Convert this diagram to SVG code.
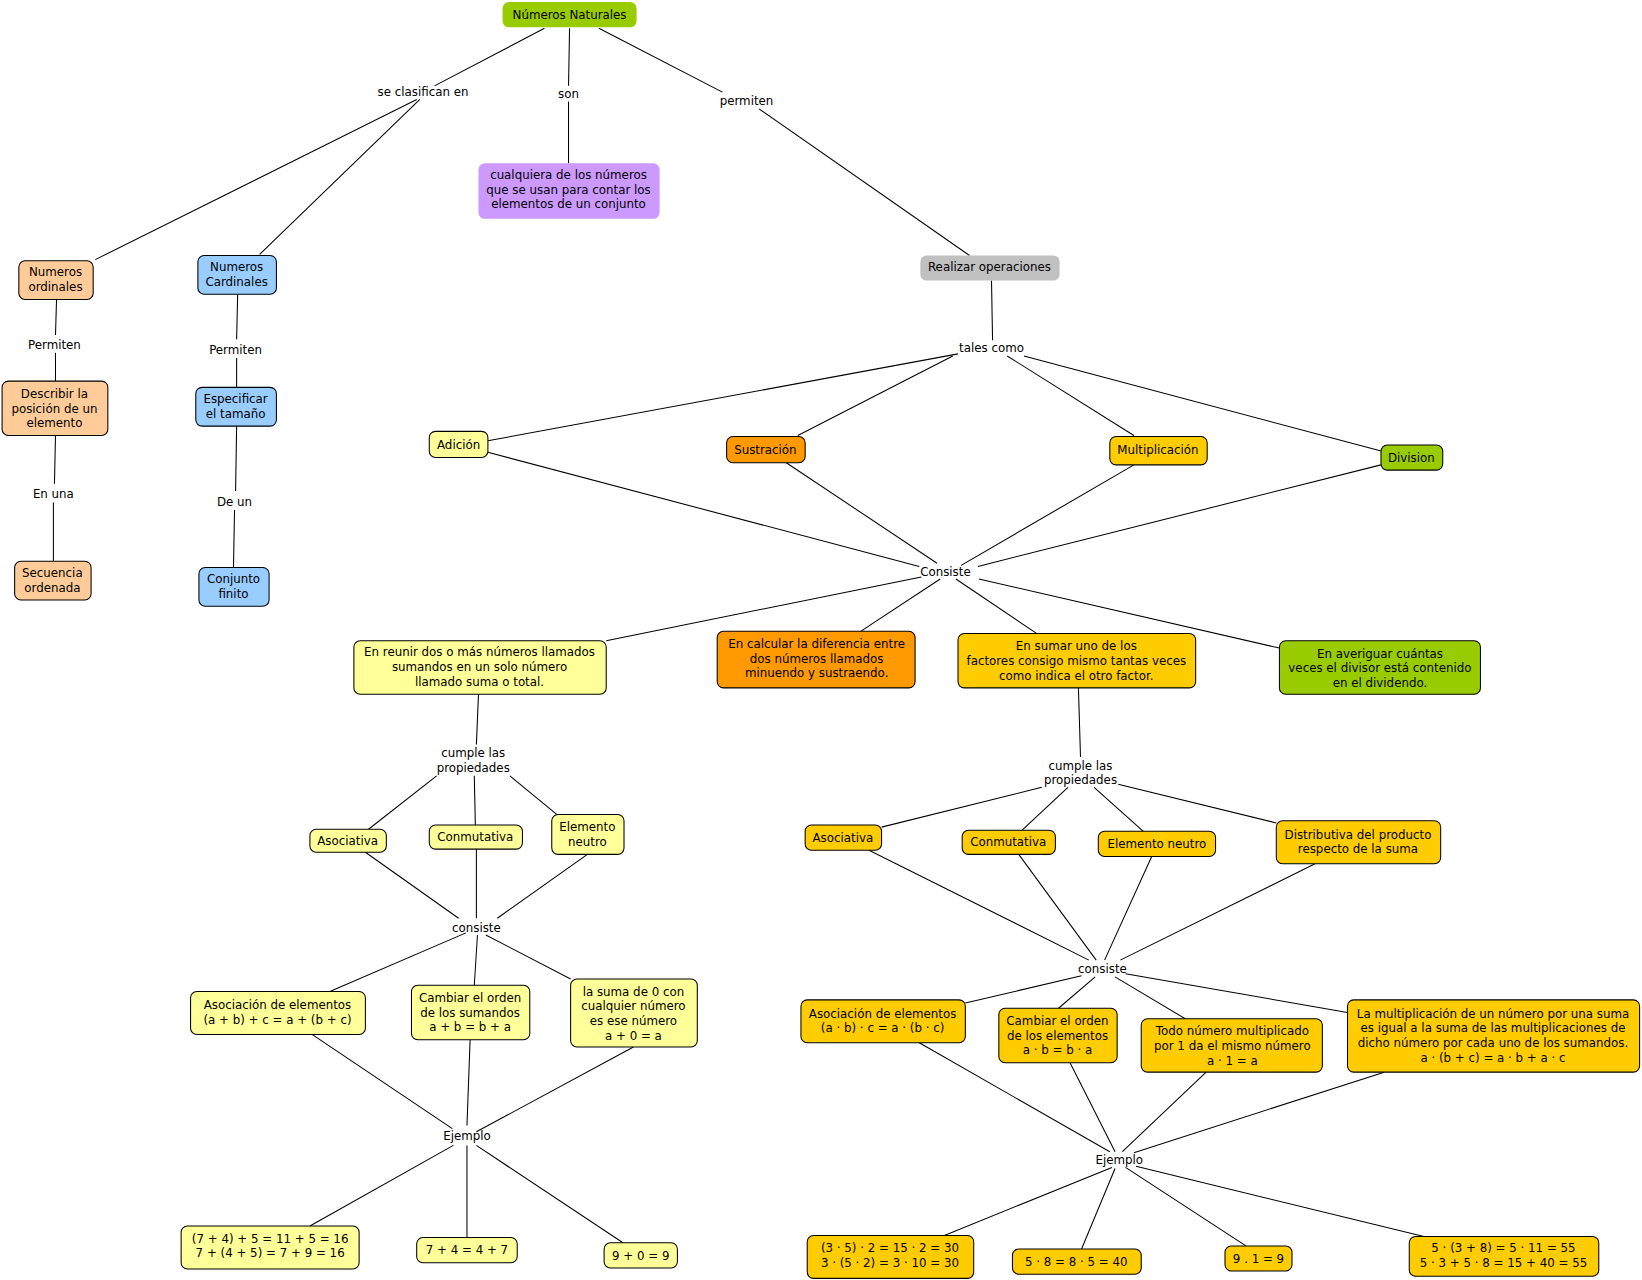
<svg xmlns="http://www.w3.org/2000/svg" width="1642" height="1280" viewBox="0 0 1642 1280">
<style>
text{font-family:"DejaVu Sans","Verdana",sans-serif;font-size:11.3px;fill:#000;text-anchor:middle}
.n{stroke:#000;stroke-width:1}
.nb{stroke:none}
#edges line{stroke:#000;stroke-width:1}
</style>
<rect width="1642" height="1280" fill="#fff"/>
<g transform="scale(1.047)">
<g id="edges">
<line x1="520" y1="27" x2="415" y2="82"/><line x1="398" y1="95" x2="91" y2="248"/><line x1="401" y1="95" x2="248" y2="243"/>
<line x1="544" y1="27" x2="543" y2="82"/><line x1="543" y1="97" x2="543" y2="156"/>
<line x1="572" y1="27" x2="690" y2="88"/><line x1="725" y1="104" x2="926" y2="244"/>
<line x1="54" y1="286" x2="53" y2="320"/><line x1="53" y1="337" x2="53" y2="364"/>
<line x1="53" y1="416" x2="52" y2="462"/><line x1="51" y1="480" x2="51" y2="536"/>
<line x1="227" y1="281" x2="226" y2="324"/><line x1="226" y1="342" x2="226" y2="370"/>
<line x1="226" y1="407" x2="225" y2="469"/><line x1="224" y1="487" x2="223" y2="542"/>
<line x1="947" y1="268" x2="948" y2="325"/>
<line x1="915" y1="338" x2="466" y2="421"/><line x1="910" y1="340" x2="762" y2="416"/><line x1="962" y1="340" x2="1083" y2="416"/><line x1="978" y1="340" x2="1320" y2="431"/>
<line x1="466" y1="432" x2="878" y2="541"/><line x1="751" y1="442" x2="895" y2="538"/><line x1="1083" y1="444" x2="918" y2="540"/><line x1="1319" y1="444" x2="934" y2="541"/>
<line x1="880" y1="551" x2="579" y2="612"/><line x1="898" y1="553" x2="822" y2="603"/><line x1="913" y1="553" x2="990" y2="605"/><line x1="935" y1="553" x2="1222" y2="619"/>
<line x1="457" y1="663" x2="455" y2="711"/>
<line x1="417" y1="741" x2="352" y2="792"/><line x1="453" y1="741" x2="454" y2="788"/><line x1="487" y1="741" x2="532" y2="778"/>
<line x1="349" y1="814" x2="438" y2="877"/><line x1="455" y1="811" x2="455" y2="877"/><line x1="561" y1="816" x2="475" y2="877"/>
<line x1="445" y1="891" x2="315" y2="947"/><line x1="456" y1="893" x2="453" y2="941"/><line x1="464" y1="893" x2="545" y2="935"/>
<line x1="298" y1="988" x2="432" y2="1078"/><line x1="449" y1="993" x2="446" y2="1075"/><line x1="605" y1="1000" x2="455" y2="1081"/>
<line x1="433" y1="1094" x2="296" y2="1171"/><line x1="446" y1="1094" x2="446" y2="1182"/><line x1="455" y1="1094" x2="595" y2="1187"/>
<line x1="1030" y1="657" x2="1032" y2="723"/>
<line x1="995" y1="752" x2="842" y2="790"/><line x1="1020" y1="752" x2="976" y2="793"/><line x1="1045" y1="752" x2="1092" y2="794"/><line x1="1068" y1="749" x2="1219" y2="786"/>
<line x1="830" y1="812" x2="1040" y2="917"/><line x1="973" y1="816" x2="1047" y2="917"/><line x1="1100" y1="818" x2="1055" y2="917"/><line x1="1256" y1="825" x2="1070" y2="917"/>
<line x1="1033" y1="932" x2="922" y2="958"/><line x1="1046" y1="933" x2="1011" y2="963"/><line x1="1065" y1="933" x2="1132" y2="973"/><line x1="1075" y1="930" x2="1287" y2="967"/>
<line x1="878" y1="996" x2="1060" y2="1100"/><line x1="1022" y1="1015" x2="1065" y2="1100"/><line x1="1152" y1="1024" x2="1072" y2="1100"/><line x1="1322" y1="1024" x2="1083" y2="1101"/>
<line x1="1062" y1="1115" x2="902" y2="1180"/><line x1="1065" y1="1116" x2="1033" y2="1193"/><line x1="1075" y1="1115" x2="1190" y2="1190"/><line x1="1085" y1="1114" x2="1360" y2="1181"/>
</g>
<g id="labels">
<text x="404" y="92">se  clasifican en</text><text x="543" y="94">son</text><text x="713" y="100">permiten</text>
<text x="52" y="333">Permiten</text><text x="51" y="476">En una</text><text x="225" y="338">Permiten</text><text x="224" y="483">De un</text>
<text x="947" y="336">tales como</text><text x="903" y="550">Consiste</text>
<text x="452" y="723">cumple las</text><text x="452" y="737">propiedades</text><text x="455" y="890">consiste</text><text x="446" y="1089">Ejemplo</text>
<text x="1032" y="735">cumple las</text><text x="1032" y="749">propiedades</text><text x="1053" y="929">consiste</text><text x="1069" y="1112">Ejemplo</text>
</g>
<g id="n1"><rect class="nb" x="480" y="2" width="128" height="24" rx="6" fill="#99cc00"/><text x="544" y="18">Números Naturales</text></g>
<g id="n2"><rect class="nb" x="457" y="156" width="173" height="53" rx="6" fill="#cc99ff"/><text x="543" y="171">cualquiera de los números</text><text x="543" y="185">que se usan para contar los</text><text x="543" y="199">elementos de un conjunto</text></g>
<g id="n3"><rect class="n" x="18" y="249" width="71" height="37" rx="6" fill="#ffcc99"/><text x="53" y="264">Numeros</text><text x="53" y="278">ordinales</text></g>
<g id="n4"><rect class="n" x="189" y="244" width="75" height="37" rx="6" fill="#99ccff"/><text x="226" y="259">Numeros</text><text x="226" y="273">Cardinales</text></g>
<g id="n5"><rect class="nb" x="879" y="244" width="133" height="24" rx="6" fill="#c0c0c0"/><text x="945" y="259">Realizar operaciones</text></g>
<g id="n6"><rect class="n" x="2" y="364" width="101" height="52" rx="6" fill="#ffcc99"/><text x="52" y="380">Describir la</text><text x="52" y="394">posición de un</text><text x="52" y="408">elemento</text></g>
<g id="n7"><rect class="n" x="14" y="536" width="73" height="37" rx="6" fill="#ffcc99"/><text x="50" y="551">Secuencia</text><text x="50" y="565">ordenada</text></g>
<g id="n8"><rect class="n" x="187" y="370" width="77" height="37" rx="6" fill="#99ccff"/><text x="225" y="385">Especificar</text><text x="225" y="399">el tamaño</text></g>
<g id="n9"><rect class="n" x="190" y="542" width="67" height="37" rx="6" fill="#99ccff"/><text x="223" y="557">Conjunto</text><text x="223" y="571">finito</text></g>
<g id="n10"><rect class="n" x="410" y="412" width="56" height="25" rx="6" fill="#ffff99"/><text x="438" y="429">Adición</text></g>
<g id="n11"><rect class="n" x="694" y="417" width="75" height="25" rx="6" fill="#ff9900"/><text x="731" y="434">Sustración</text></g>
<g id="n12"><rect class="n" x="1060" y="417" width="93" height="27" rx="6" fill="#ffcc00"/><text x="1106" y="434">Multiplicación</text></g>
<g id="n13"><rect class="n" x="1319" y="425" width="59" height="24" rx="6" fill="#99cc00"/><text x="1348" y="441">Division</text></g>
<g id="n14"><rect class="n" x="338" y="612" width="241" height="51" rx="6" fill="#ffff99"/><text x="458" y="627">En reunir dos o más números llamados</text><text x="458" y="641">sumandos en un solo número</text><text x="458" y="655">llamado suma o total.</text></g>
<g id="n15"><rect class="n" x="685" y="603" width="189" height="54" rx="6" fill="#ff9900"/><text x="780" y="619">En calcular la diferencia entre</text><text x="780" y="633">dos números llamados</text><text x="780" y="647">minuendo y sustraendo.</text></g>
<g id="n16"><rect class="n" x="915" y="605" width="227" height="52" rx="6" fill="#ffcc00"/><text x="1028" y="621">En sumar uno de los</text><text x="1028" y="635">factores consigo mismo tantas veces</text><text x="1028" y="649">como indica el otro factor.</text></g>
<g id="n17"><rect class="n" x="1222" y="612" width="192" height="51" rx="6" fill="#99cc00"/><text x="1318" y="628">En averiguar cuántas</text><text x="1318" y="642">veces el divisor está contenido</text><text x="1318" y="656">en el dividendo.</text></g>
<g id="n18"><rect class="n" x="296" y="792" width="73" height="22" rx="6" fill="#ffff99"/><text x="332" y="807">Asociativa</text></g>
<g id="n19"><rect class="n" x="410" y="788" width="89" height="23" rx="6" fill="#ffff99"/><text x="454" y="803">Conmutativa</text></g>
<g id="n20"><rect class="n" x="527" y="778" width="69" height="38" rx="6" fill="#ffff99"/><text x="561" y="794">Elemento</text><text x="561" y="808">neutro</text></g>
<g id="n21"><rect class="n" x="182" y="947" width="167" height="41" rx="6" fill="#ffff99"/><text x="265" y="964">Asociación de elementos</text><text x="265" y="978">(a + b) + c = a + (b + c)</text></g>
<g id="n22"><rect class="n" x="393" y="941" width="113" height="52" rx="6" fill="#ffff99"/><text x="449" y="957">Cambiar el orden</text><text x="449" y="971">de los sumandos</text><text x="449" y="985">a + b = b + a</text></g>
<g id="n23"><rect class="n" x="545" y="935" width="121" height="65" rx="6" fill="#ffff99"/><text x="605" y="951">la suma de 0 con</text><text x="605" y="965">cualquier número</text><text x="605" y="979">es ese número</text><text x="605" y="993">a + 0 = a</text></g>
<g id="n24"><rect class="n" x="173" y="1171" width="170" height="41" rx="6" fill="#ffff99"/><text x="258" y="1187">(7 + 4) + 5 = 11 + 5 = 16</text><text x="258" y="1201">7 + (4 + 5) = 7 + 9 = 16</text></g>
<g id="n25"><rect class="n" x="398" y="1182" width="96" height="24" rx="6" fill="#ffff99"/><text x="446" y="1198">7 + 4 = 4 + 7</text></g>
<g id="n26"><rect class="n" x="577" y="1187" width="70" height="24" rx="6" fill="#ffff99"/><text x="612" y="1203">9 + 0 = 9</text></g>
<g id="n27"><rect class="n" x="769" y="788" width="73" height="24" rx="6" fill="#ffcc00"/><text x="805" y="804">Asociativa</text></g>
<g id="n28"><rect class="n" x="919" y="793" width="89" height="23" rx="6" fill="#ffcc00"/><text x="963" y="808">Conmutativa</text></g>
<g id="n29"><rect class="n" x="1049" y="794" width="112" height="24" rx="6" fill="#ffcc00"/><text x="1105" y="810">Elemento neutro</text></g>
<g id="n30"><rect class="n" x="1219" y="784" width="157" height="41" rx="6" fill="#ffcc00"/><text x="1297" y="801">Distributiva del producto</text><text x="1297" y="815">respecto de la suma</text></g>
<g id="n31"><rect class="n" x="765" y="955" width="157" height="41" rx="6" fill="#ffcc00"/><text x="843" y="972">Asociación de elementos</text><text x="843" y="986">(a · b) · c = a · (b · c)</text></g>
<g id="n32"><rect class="n" x="954" y="963" width="113" height="52" rx="6" fill="#ffcc00"/><text x="1010" y="979">Cambiar el orden</text><text x="1010" y="993">de los elementos</text><text x="1010" y="1007">a · b = b · a</text></g>
<g id="n33"><rect class="n" x="1090" y="973" width="173" height="51" rx="6" fill="#ffcc00"/><text x="1177" y="989">Todo número multiplicado</text><text x="1177" y="1003">por 1 da el mismo número</text><text x="1177" y="1017">a · 1 = a</text></g>
<g id="n34"><rect class="n" x="1287" y="955" width="279" height="69" rx="6" fill="#ffcc00"/><text x="1426" y="972">La multiplicación de un número por una suma</text><text x="1426" y="986">es igual a la suma de las multiplicaciones de</text><text x="1426" y="1000">dicho número por cada uno de los sumandos.</text><text x="1426" y="1014">a · (b + c) = a · b + a · c</text></g>
<g id="n35"><rect class="n" x="771" y="1180" width="159" height="41" rx="6" fill="#ffcc00"/><text x="850" y="1196">(3 · 5) · 2 = 15 · 2 = 30</text><text x="850" y="1210">3 · (5 · 2) = 3 · 10 = 30</text></g>
<g id="n36"><rect class="n" x="967" y="1193" width="123" height="24" rx="6" fill="#ffcc00"/><text x="1028" y="1209">5 · 8 = 8 · 5 = 40</text></g>
<g id="n37"><rect class="n" x="1170" y="1190" width="64" height="24" rx="6" fill="#ffcc00"/><text x="1202" y="1206">9 . 1 = 9</text></g>
<g id="n38"><rect class="n" x="1346" y="1181" width="181" height="38" rx="6" fill="#ffcc00"/><text x="1436" y="1196">5 · (3 + 8) = 5 · 11 = 55</text><text x="1436" y="1210">5 · 3 + 5 · 8 = 15 + 40 = 55</text></g>
</g>
</svg>
